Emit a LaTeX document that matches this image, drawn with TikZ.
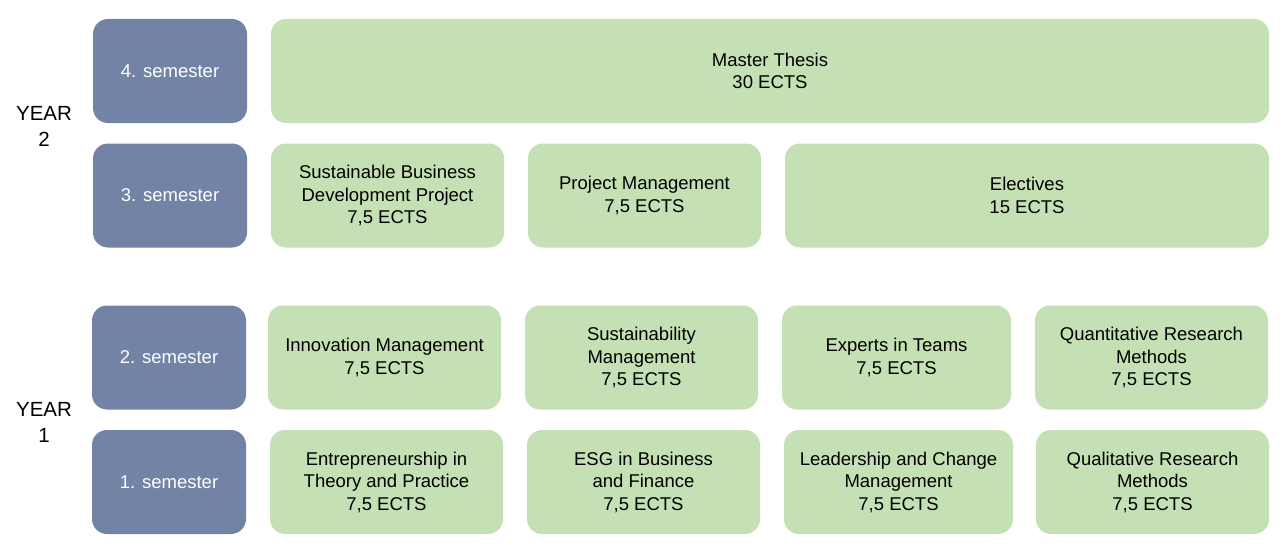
\documentclass[tikz,border=0pt]{standalone}
\usepackage{fontspec}
\setmainfont{Liberation Sans}
\usepackage{tikz}

\definecolor{semblue}{RGB}{114,131,166}
\definecolor{coursegreen}{RGB}{197,224,180}

\tikzset{
    semester/.style = {fill = semblue, text = white, rounded corners = 15pt,
        minimum width = 154pt, minimum height = 104pt, inner sep = 0pt},
    course/.style = {fill = coursegreen, text = black, rounded corners = 15pt,
        minimum height = 104pt, inner sep = 0pt, align = center},
    yearlabel/.style = {align = center, font = \fontsize{20.5}{26}\selectfont}
}

\begin{document}
\begin{tikzpicture}[x = 1pt, y = -1pt,
        font = \fontsize{18.5}{22.5}\selectfont]
        \useasboundingbox (0,0) rectangle (1280,551);

        % year labels
        \node [yearlabel] (year2) at (44,126) {YEAR\\2};
        \node [yearlabel] (year1) at (44,422) {YEAR\\1};

        % semesters
        \node [semester] (sem4) at (170,71) {4. semester};
        \node [semester] (sem3) at (170,195.5) {3. semester};
        \node [semester] (sem2) at (169,357.5) {2. semester};
        \node [semester] (sem1) at (169,482) {1. semester};

        % 4. semester
        \node [course, minimum width = 998pt] (thesis) at (770,71) {Master Thesis\\30 ECTS};

        % 3. semester
        \node [course, minimum width = 233pt] (sbd) at (387.5,195.5) {Sustainable Business\\Development Project\\7,5 ECTS};
        \node [course, minimum width = 233pt] (pm) at (644.5,195.5) {Project Management\\7,5 ECTS};
        \node [course, minimum width = 484pt] (elec) at (1027,195.5) {Electives\\15 ECTS};

        % 2. semester
        \node [course, minimum width = 233pt] (inno) at (384.5,357.5) {Innovation Management\\7,5 ECTS};
        \node [course, minimum width = 233pt] (sust) at (641.5,357.5) {Sustainability\\Management\\7,5 ECTS};
        \node [course, minimum width = 229pt] (expert) at (896.5,357.5) {Experts in Teams\\7,5 ECTS};
        \node [course, minimum width = 233pt] (quant) at (1151.5,357.5) {Quantitative Research\\Methods\\7,5 ECTS};

        % 1. semester
        \node [course, minimum width = 233pt] (entre) at (386.5,482) {Entrepreneurship in\\Theory and Practice\\7,5 ECTS};
        \node [course, minimum width = 233pt] (esg) at (643.5,482) {ESG in Business\\and Finance\\7,5 ECTS};
        \node [course, minimum width = 229pt] (lead) at (898.5,482) {Leadership and Change\\Management\\7,5 ECTS};
        \node [course, minimum width = 233pt] (qual) at (1152.5,482) {Qualitative Research\\Methods\\7,5 ECTS};
    \end{tikzpicture}
\end{document}
